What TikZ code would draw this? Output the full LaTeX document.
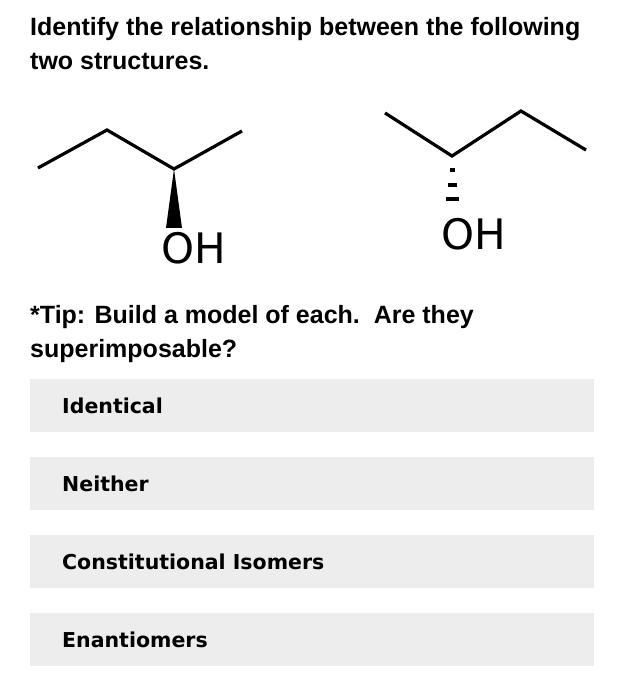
\documentclass[tikz,border=0pt]{standalone}
\usepackage{fontspec}
\setmainfont{Liberation Sans}
\newfontfamily\dvs{DejaVu Sans}
\begin{document}
\begin{tikzpicture}[x=1pt,y=-1pt,
  bond/.style={line width=3.2pt,line cap=butt,line join=miter},
  optbox/.style={fill=black!7,draw=none,minimum width=564pt,minimum height=53pt,anchor=north west,inner sep=0pt},
  opttext/.style={anchor=west,inner sep=0pt,font=\dvs\fontsize{20.5}{25}\selectfont\bfseries},
  ohtext/.style={font=\dvs\fontsize{42}{42}\selectfont,inner sep=0pt},
  title/.style={anchor=north west,align=left,font=\fontsize{25}{34}\selectfont\bfseries}]
\useasboundingbox (0,0) rectangle (619,700);
\node[title,inner sep=0pt] (q) at (30,17) {Identify the relationship between the following\\two structures.};
% left molecule
\coordinate (a1) at (38,168); \coordinate (a2) at (107,130);
\coordinate (a3) at (174,169); \coordinate (a4) at (242,131);
\draw[bond] (a1)--(a2)--(a3)--(a4);
\fill (a3) -- (182,228) -- (166,228) -- cycle;
\node[ohtext] (oh1) at (194,248) {OH};
% right molecule
\coordinate (b1) at (385,113); \coordinate (b2) at (452,156);
\coordinate (b3) at (521,111); \coordinate (b4) at (586,150);
\draw[bond] (b1)--(b2)--(b3)--(b4);
\foreach \y/\w in {170/2.5,185/4.5,199/6.5} \fill (452-\w,\y-1.8) rectangle (452+\w,\y+1.8);
\node[ohtext] (oh2) at (474,234) {OH};
\node[title,inner sep=0pt] (tip) at (30,305) {*Tip: Build a model of each.\ \ Are they\\superimposable?};
\foreach \n/\y/\t in {o1/379/Identical,o2/457/Neither,o3/535/Constitutional Isomers,o4/613/Enantiomers}{
  \node[optbox] (\n) at (30,\y) {};
  \node[opttext] at ([xshift=32pt]\n.west) {\t};
}
\end{tikzpicture}
\end{document}
